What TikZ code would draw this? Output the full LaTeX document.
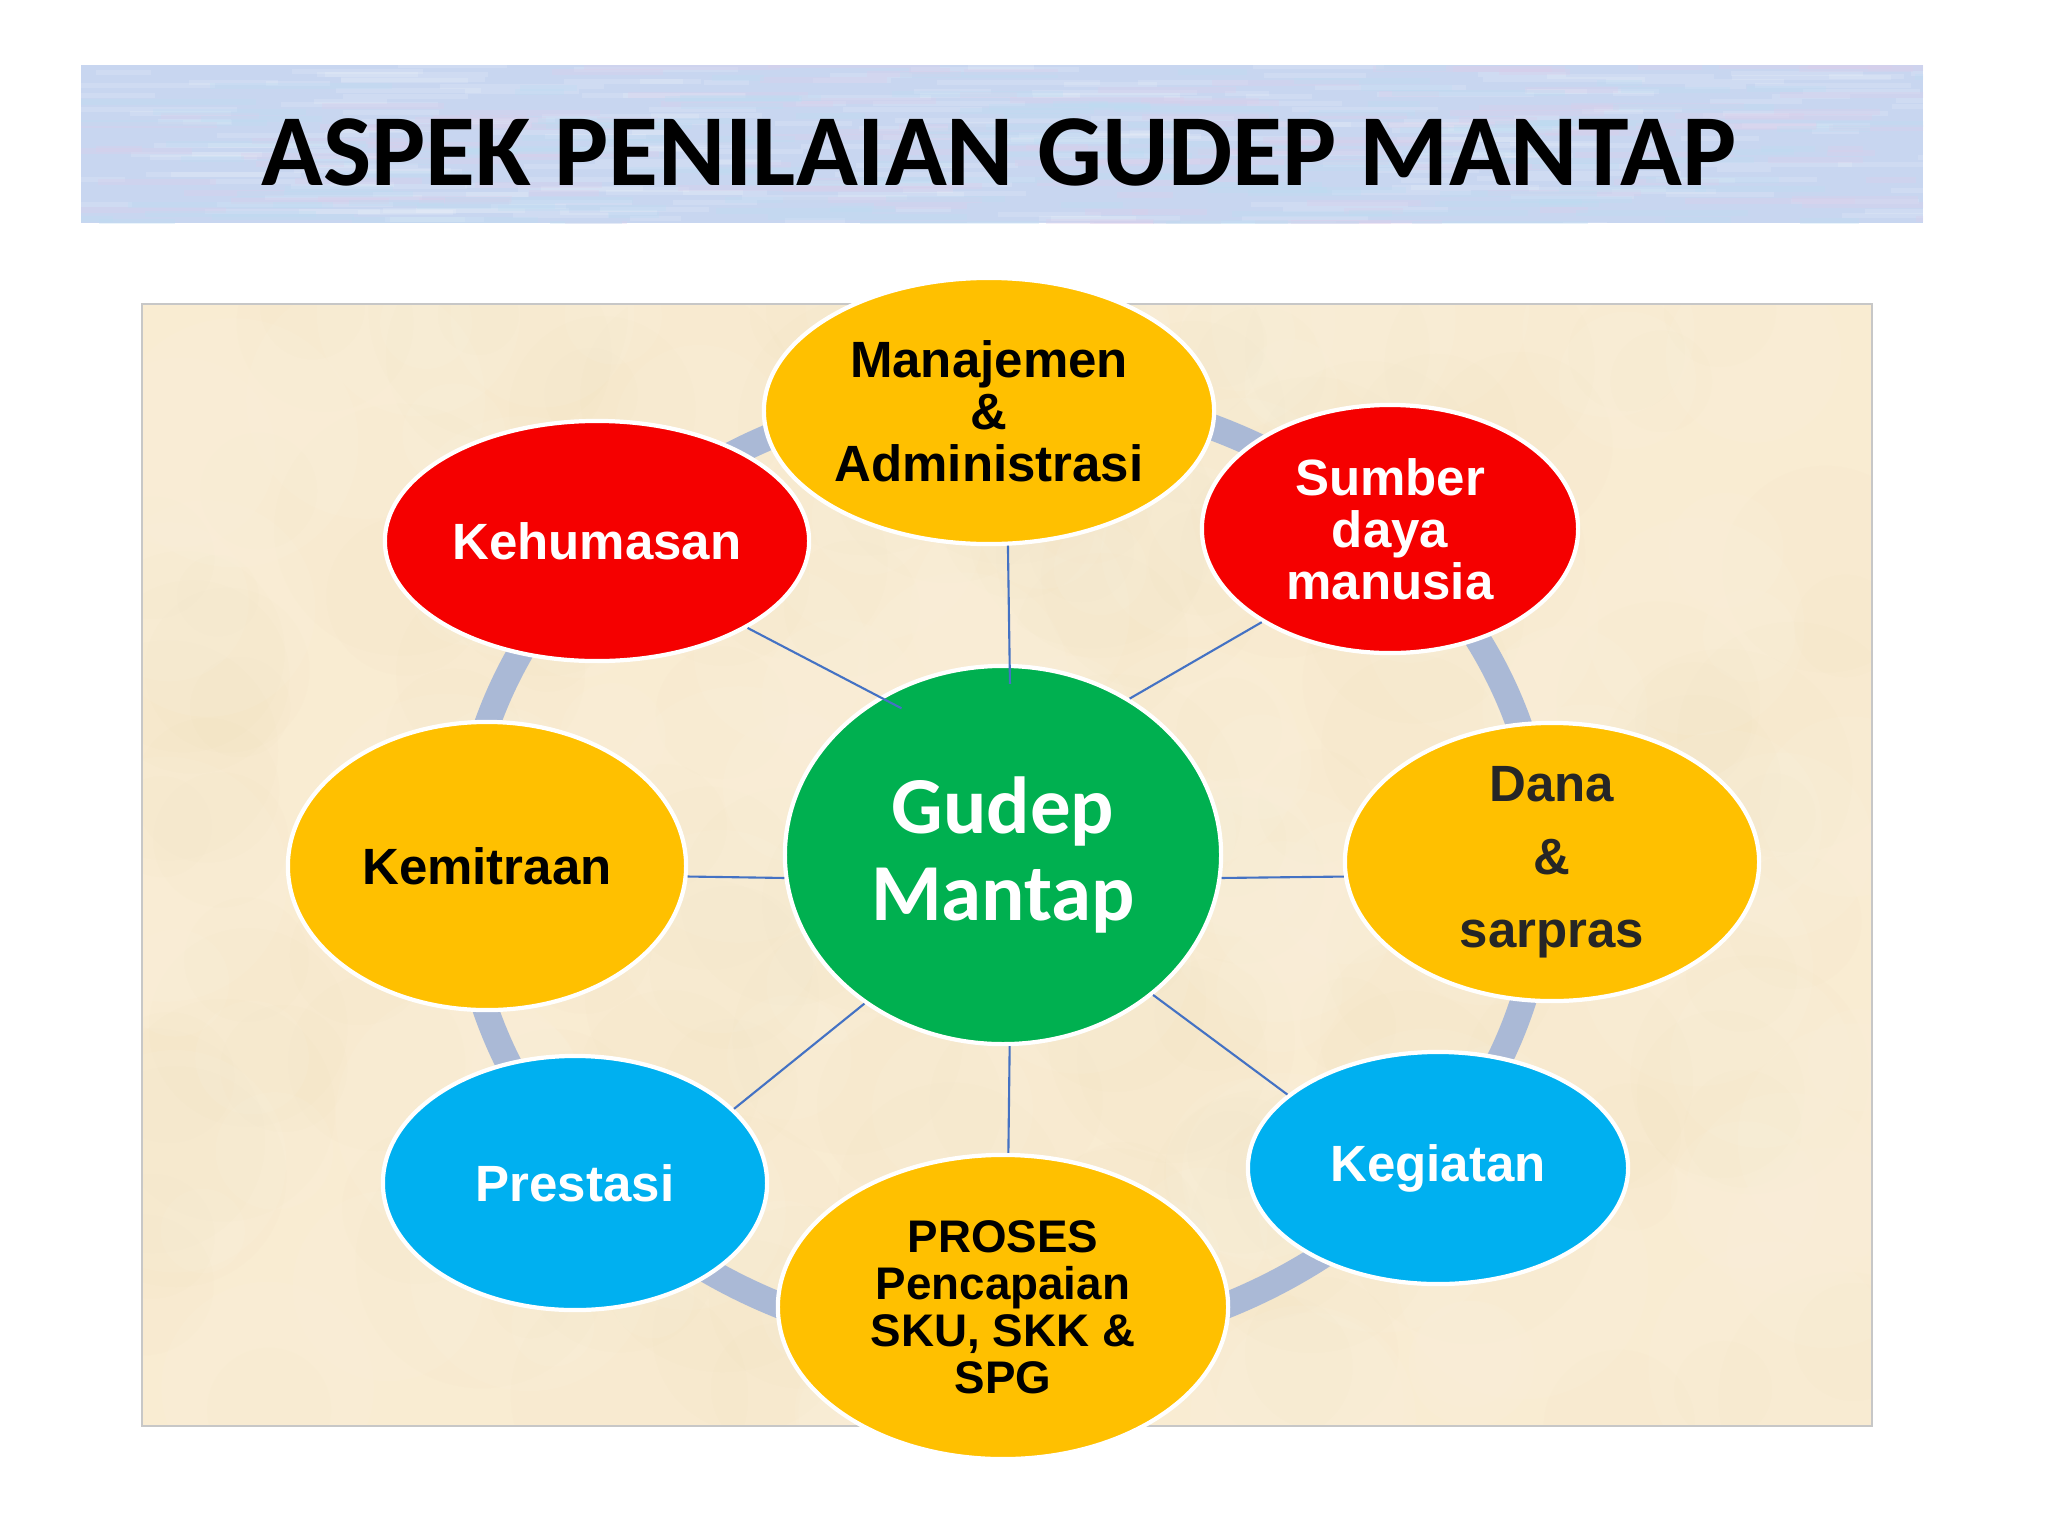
\documentclass[tikz,border=0pt]{standalone}
\usepackage{fontspec}
\setmainfont{Liberation Sans}
\newfontfamily\calib{Carlito}
\usetikzlibrary{shapes.geometric,calc}
\definecolor{ringc}{HTML}{AAB9D6}
\definecolor{linkc}{HTML}{4472C4}
\definecolor{yel}{HTML}{FFC000}
\definecolor{redc}{HTML}{F50000}
\definecolor{bluec}{HTML}{00B0F0}
\definecolor{greenc}{HTML}{00B050}
\definecolor{beige}{HTML}{F9ECD2}
\definecolor{beigedark}{HTML}{EFDCB6}
\definecolor{beigelight}{HTML}{FCF4E4}
\definecolor{banner}{HTML}{C8D6F0}
\definecolor{bannerpink}{HTML}{DCCDEA}
\definecolor{bannercyan}{HTML}{BCDDF2}
\definecolor{darktext}{HTML}{262626}
\begin{document}
\begin{tikzpicture}[x=0.01cm,y=-0.01cm,
  bub/.style={ellipse, draw=white, line width=1.2pt, inner sep=0pt, align=center,
    font=\bfseries\fontsize{14.5}{14.8}\selectfont},
  link/.style={draw=linkc, line width=0.6pt}]
\useasboundingbox (0,0) rectangle (2048,1536);
\fill[white] (0,0) rectangle (2048,1536);
% banner
\begin{scope}
\clip (81,65) rectangle (1923,223);
\fill[banner] (81,65) rectangle (1923,223);
\pgfmathsetseed{7}
\foreach \i in {1,...,220}{
  \pgfmathsetmacro{\xx}{60+rnd*1860}
  \pgfmathsetmacro{\yy}{62+rnd*160}
  \pgfmathsetmacro{\ll}{40+rnd*140}
  \fill[white, opacity=0.14] (\xx,\yy) rectangle ++(\ll,5);
}
\foreach \i in {1,...,120}{
  \pgfmathsetmacro{\xx}{60+rnd*1860}
  \pgfmathsetmacro{\yy}{62+rnd*160}
  \pgfmathsetmacro{\ll}{40+rnd*160}
  \fill[bannerpink, opacity=0.3] (\xx,\yy) rectangle ++(\ll,6);
}
\foreach \i in {1,...,120}{
  \pgfmathsetmacro{\xx}{60+rnd*1860}
  \pgfmathsetmacro{\yy}{62+rnd*160}
  \pgfmathsetmacro{\ll}{40+rnd*160}
  \fill[bannercyan, opacity=0.3] (\xx,\yy) rectangle ++(\ll,6);
}
\end{scope}
\node (title) at (999,152) {\calib\bfseries\fontsize{29}{29}\selectfont ASPEK PENILAIAN GUDEP MANTAP};
% panel
\begin{scope}
\clip (142,304) rectangle (1872,1426);
\fill[beige] (142,304) rectangle (1872,1426);
\pgfmathsetseed{11}
\foreach \i in {1,...,160}{
  \pgfmathsetmacro{\xx}{142+rnd*1730}
  \pgfmathsetmacro{\yy}{304+rnd*1122}
  \pgfmathsetmacro{\rr}{40+rnd*90}
  \fill[beigedark, opacity=0.07] (\xx,\yy) circle (\rr);
}
\foreach \i in {1,...,120}{
  \pgfmathsetmacro{\xx}{142+rnd*1730}
  \pgfmathsetmacro{\yy}{304+rnd*1122}
  \pgfmathsetmacro{\rr}{40+rnd*90}
  \fill[beigelight, opacity=0.12] (\xx,\yy) circle (\rr);
}
\end{scope}
\draw[black!22, line width=0.4pt] (142,304) rectangle (1872,1426);
% ring
\draw[ringc, line width=7.4pt] (1003,869) ellipse [x radius=541, y radius=479];
% nodes
\node[bub, fill=yel, minimum width=4.5cm, minimum height=2.66cm] (man) at (989,411)
  {Manajemen\\\&\\Administrasi};
\node[bub, fill=redc, text=white, minimum width=3.76cm, minimum height=2.48cm] (sdm) at (1390,529)
  {Sumber\\daya\\manusia};
\node[bub, fill=redc, text=white, minimum width=4.24cm, minimum height=2.4cm] (keh) at (597,541)
  {Kehumasan};
\node[bub, fill=yel, minimum width=3.98cm, minimum height=2.88cm] (kem) at (487,866)
  {Kemitraan};
\node[bub, fill=greenc, text=white, minimum width=4.36cm, minimum height=3.78cm,
  font=\calib\bfseries\fontsize{23}{25}\selectfont] (gm) at (1003,855)
  {Gudep\\Mantap};
\node[bub, fill=yel, text=darktext, minimum width=4.14cm, minimum height=2.78cm,
  font=\bfseries\fontsize{14.5}{20.8}\selectfont] (dana) at (1552,862)
  {Dana\\\&\\sarpras};
\node[bub, fill=bluec, text=white, minimum width=3.84cm, minimum height=2.54cm] (pre) at (575,1183)
  {Prestasi};
\node[bub, fill=bluec, text=white, minimum width=3.8cm, minimum height=2.32cm] (keg) at (1438,1168)
  {Kegiatan};
\node[bub, fill=yel, minimum width=4.5cm, minimum height=3.04cm,
  font=\bfseries\fontsize{13}{13.4}\selectfont] (pro) at (1003,1307)
  {PROSES\\Pencapaian\\SKU, SKK \&\\SPG};
% connectors
\draw[link, shorten >=-0.2cm] (man.-82) -- (gm.88.5);
\draw[link] (sdm.-144) -- (gm.51);
\draw[link, shorten >=-0.25cm] (keh.-30) -- (gm.128);
\draw[link] (kem.-3.6) -- (gm.186.5);
\draw[link] (dana.184.8) -- (gm.-6.5);
\draw[link] (pre.25) -- (gm.-133);
\draw[link] (keg.154) -- (gm.-43);
\draw[link] (pro.88) -- (gm.-88);
\end{tikzpicture}
\end{document}
